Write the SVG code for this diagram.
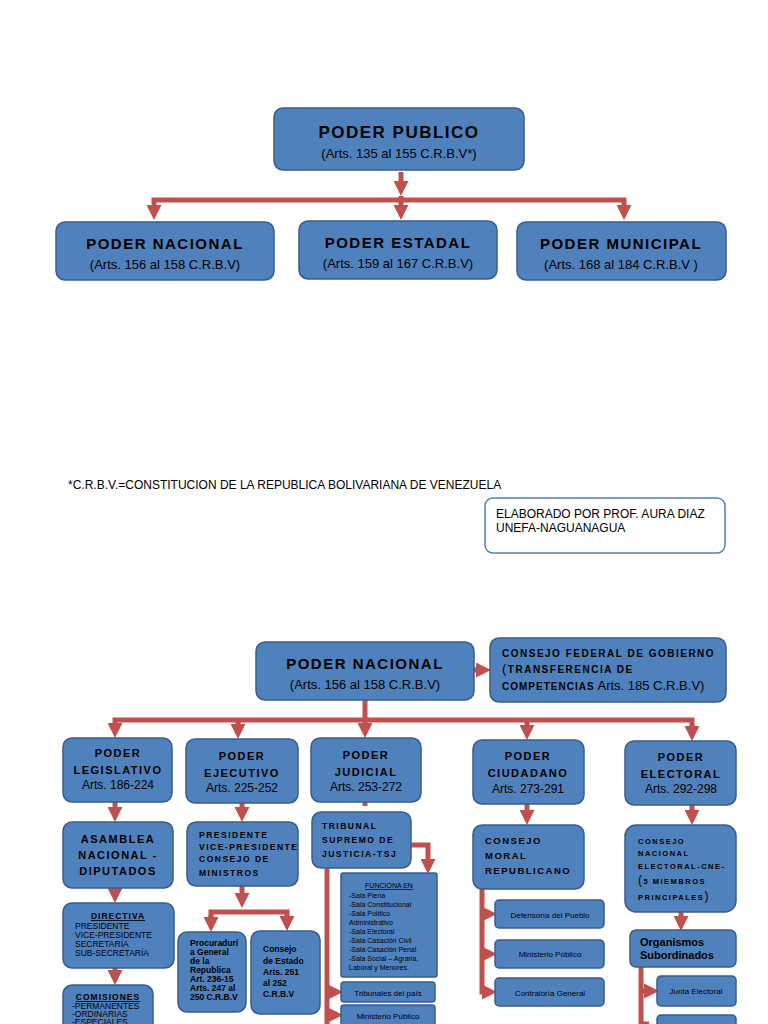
<svg xmlns="http://www.w3.org/2000/svg" width="768" height="1024" viewBox="0 0 768 1024">
<style>
.b{fill:#4f81bd;stroke:#385d8a;stroke-width:1.5}
.t{font-family:"Liberation Sans",Arial,sans-serif;fill:#000}
.h{font-weight:bold;letter-spacing:1.5px}
.c{text-anchor:middle}
.l{fill:none;stroke:#c0504d;stroke-width:5}
.w{fill:#fff;stroke:#4f81bd;stroke-width:1.5}
</style>
<defs><marker id="a" markerWidth="3" markerHeight="3" refX="1" refY="1.5" orient="auto"><path d="M0,0L3,1.5L0,3z" fill="#c0504d"/></marker></defs>
<rect width="768" height="1024" fill="#fff"/>
<g id="connectors">
<path class="l" d="M401,172V186" marker-end="url(#a)"/>
<path class="l" d="M154,212V200H624V212M401,196V212"/>
<path class="l" d="M154,205V210" marker-end="url(#a)"/>
<path class="l" d="M401,205V210" marker-end="url(#a)"/>
<path class="l" d="M624,205V210" marker-end="url(#a)"/>
<path class="l" d="M474,670H481" marker-end="url(#a)"/>
<path class="l" d="M365,700V720M115,730V720H692V730M238,720V730M365,720V730M527,720V730"/>
<path class="l" d="M115,725V728" marker-end="url(#a)"/>
<path class="l" d="M238,725V729" marker-end="url(#a)"/>
<path class="l" d="M365,725V728" marker-end="url(#a)"/>
<path class="l" d="M527,725V730" marker-end="url(#a)"/>
<path class="l" d="M692,725V731" marker-end="url(#a)"/>
<path class="l" d="M115,802V812" marker-end="url(#a)"/>
<path class="l" d="M115,888V893" marker-end="url(#a)"/>
<path class="l" d="M115,968V975" marker-end="url(#a)"/>
<path class="l" d="M242,803V812" marker-end="url(#a)"/>
<path class="l" d="M242,886V898" marker-end="url(#a)"/>
<path class="l" d="M211,922V912H287V922"/>
<path class="l" d="M211,915V922" marker-end="url(#a)"/>
<path class="l" d="M287,915V921" marker-end="url(#a)"/>
<path class="l" d="M365,802V806"/>
<path class="l" d="M411,845H428V864" marker-end="url(#a)"/>
<path class="l" d="M327,868V1024M327,992H334M327,1015H334"/>
<path class="l" d="M330,992H333" marker-end="url(#a)"/>
<path class="l" d="M330,1015H333" marker-end="url(#a)"/>
<path class="l" d="M527,804V815" marker-end="url(#a)"/>
<path class="l" d="M482,889V992H487M482,914H487M482,954H487"/>
<path class="l" d="M484,914H487" marker-end="url(#a)"/>
<path class="l" d="M484,954H487" marker-end="url(#a)"/>
<path class="l" d="M484,992H487" marker-end="url(#a)"/>
<path class="l" d="M692,805V815" marker-end="url(#a)"/>
<path class="l" d="M681,912V921" marker-end="url(#a)"/>
<path class="l" d="M641,967V1024M641,991H649M641,1024H649"/>
<path class="l" d="M644,991H649" marker-end="url(#a)"/>
</g>
<g id="poder-publico"><rect class="b" x="274" y="108" width="250" height="62" rx="9"/>
<text class="t h c" x="399" y="138" font-size="17">PODER PUBLICO</text>
<text class="t c" x="399" y="158" font-size="13">(Arts. 135 al 155 C.R.B.V*)</text></g>
<g id="pn1"><rect class="b" x="56" y="222" width="218" height="58" rx="9"/>
<text class="t h c" x="165" y="249" font-size="15">PODER NACIONAL</text>
<text class="t c" x="165" y="269" font-size="13">(Arts. 156 al 158 C.R.B.V)</text></g>
<g id="pe"><rect class="b" x="299" y="221" width="198" height="58" rx="9"/>
<text class="t h c" x="398" y="248" font-size="15">PODER ESTADAL</text>
<text class="t c" x="398" y="268" font-size="13">(Arts. 159 al 167 C.R.B.V)</text></g>
<g id="pm"><rect class="b" x="517" y="222" width="209" height="58" rx="9"/>
<text class="t h c" x="621" y="249" font-size="15">PODER MUNICIPAL</text>
<text class="t c" x="621" y="269" font-size="13">(Arts. 168 al 184 C.R.B.V )</text></g>
<text class="t" x="68" y="489" font-size="12">*C.R.B.V.=CONSTITUCION  DE LA REPUBLICA BOLIVARIANA  DE VENEZUELA</text>
<g id="elaborado"><rect class="w" x="485" y="498" width="240" height="55" rx="8"/>
<text class="t" x="496" y="518" font-size="12">ELABORADO POR PROF. AURA DIAZ</text>
<text class="t" x="496" y="532" font-size="12">UNEFA-NAGUANAGUA</text></g>
<g id="pn2"><rect class="b" x="256" y="642" width="218" height="58" rx="9"/>
<text class="t h c" x="365" y="669" font-size="15">PODER NACIONAL</text>
<text class="t c" x="365" y="689" font-size="13">(Arts. 156 al 158 C.R.B.V)</text></g>
<g id="cfg"><rect class="b" x="490" y="638" width="236" height="64" rx="9"/>
<text class="t h" x="502" y="657" font-size="10" letter-spacing="1">CONSEJO FEDERAL DE GOBIERNO</text>
<text class="t h" x="502" y="673" font-size="10" letter-spacing="1"><tspan font-size="13" font-weight="normal">(</tspan>TRANSFERENCIA DE</text>
<text class="t" x="502" y="690" font-size="10"><tspan font-weight="bold" letter-spacing="1">COMPETENCIAS</tspan><tspan font-size="13"> Arts. 185 C.R.B.V)</tspan></text></g>
<g id="leg"><rect class="b" x="63" y="738" width="109" height="64" rx="9"/>
<text class="t h c" x="118" y="757" font-size="11">PODER</text><text class="t h c" x="118" y="774" font-size="11">LEGISLATIVO</text>
<text class="t c" x="118" y="789" font-size="12">Arts. 186-224</text></g>
<g id="eje"><rect class="b" x="186" y="739" width="112" height="64" rx="9"/>
<text class="t h c" x="242" y="760" font-size="11">PODER</text><text class="t h c" x="242" y="777" font-size="11">EJECUTIVO</text>
<text class="t c" x="242" y="792" font-size="12">Arts. 225-252</text></g>
<g id="jud"><rect class="b" x="311" y="738" width="110" height="64" rx="9"/>
<text class="t h c" x="366" y="759" font-size="11">PODER</text><text class="t h c" x="366" y="776" font-size="11">JUDICIAL</text>
<text class="t c" x="366" y="791" font-size="12">Arts. 253-272</text></g>
<g id="ciu"><rect class="b" x="473" y="740" width="111" height="64" rx="9"/>
<text class="t h c" x="528" y="760" font-size="11">PODER</text><text class="t h c" x="528" y="777" font-size="11">CIUDADANO</text>
<text class="t c" x="528" y="793" font-size="12">Arts. 273-291</text></g>
<g id="ele"><rect class="b" x="625" y="741" width="111" height="64" rx="9"/>
<text class="t h c" x="681" y="761" font-size="11">PODER</text><text class="t h c" x="681" y="778" font-size="11">ELECTORAL</text>
<text class="t c" x="681" y="793" font-size="12">Arts. 292-298</text></g>
<g id="asamblea"><rect class="b" x="63" y="822" width="110" height="66" rx="9"/>
<text class="t h c" x="118" y="843" font-size="11">ASAMBLEA</text><text class="t h c" x="118" y="859" font-size="11">NACIONAL -</text><text class="t h c" x="118" y="875" font-size="11">DIPUTADOS</text></g>
<g id="presidente"><rect class="b" x="187" y="822" width="111" height="64" rx="9"/>
<text class="t h" x="199" y="838" font-size="8.5" letter-spacing="0.6">PRESIDENTE</text>
<text class="t h" x="199" y="850" font-size="8.5" letter-spacing="0.6">VICE-PRESIDENTE</text>
<text class="t h" x="199" y="862" font-size="8.5" letter-spacing="0.6">CONSEJO DE</text>
<text class="t h" x="199" y="876" font-size="8.5" letter-spacing="0.6">MINISTROS</text></g>
<g id="tsj"><rect class="b" x="312" y="812" width="99" height="56" rx="9"/>
<text class="t h" x="322" y="829" font-size="8.5" letter-spacing="1">TRIBUNAL</text>
<text class="t h" x="322" y="843" font-size="8.5" letter-spacing="1">SUPREMO DE</text>
<text class="t h" x="322" y="857" font-size="8.5" letter-spacing="1">JUSTICIA-TSJ</text></g>
<g id="cmr"><rect class="b" x="473" y="825" width="111" height="64" rx="9"/>
<text class="t h" x="485" y="844" font-size="9.5" letter-spacing="1.5">CONSEJO</text>
<text class="t h" x="485" y="859" font-size="9.5" letter-spacing="1.5">MORAL</text>
<text class="t h" x="485" y="874" font-size="9.5" letter-spacing="1.5">REPUBLICANO</text></g>
<g id="cne"><rect class="b" x="625" y="825" width="111" height="87" rx="11"/>
<text class="t h" x="638" y="844" font-size="7.5" letter-spacing="1">CONSEJO</text>
<text class="t h" x="638" y="856" font-size="7.5" letter-spacing="1">NACIONAL</text>
<text class="t h" x="638" y="869" font-size="7.5" letter-spacing="1">ELECTORAL-CNE-</text>
<text class="t h" x="638" y="884" font-size="7.5" letter-spacing="1"><tspan font-size="12" font-weight="normal">(</tspan>5 MIEMBROS</text>
<text class="t h" x="638" y="900" font-size="7.5" letter-spacing="1">PRINCIPALES<tspan font-size="12" font-weight="normal">)</tspan></text></g>
<g id="directiva"><rect class="b" x="63" y="903" width="111" height="65" rx="9"/>
<text class="t c" x="118" y="919" font-size="8.5" font-weight="bold" text-decoration="underline" letter-spacing="1">DIRECTIVA</text>
<text class="t" x="75" y="929" font-size="8.5">PRESIDENTE</text>
<text class="t" x="75" y="938" font-size="8.5">VICE-PRESIDENTE</text>
<text class="t" x="75" y="947" font-size="8.5">SECRETARÍA</text>
<text class="t" x="75" y="956" font-size="8.5">SUB-SECRETARÍA</text></g>
<g id="comisiones"><rect class="b" x="63" y="985" width="90" height="50" rx="9"/>
<text class="t c" x="108" y="1000" font-size="8.5" font-weight="bold" text-decoration="underline" letter-spacing="1">COMISIONES</text>
<text class="t" x="72" y="1009" font-size="8.5">-PERMANENTES</text>
<text class="t" x="72" y="1017" font-size="8.5">-ORDINARIAS</text>
<text class="t" x="72" y="1025" font-size="8.5">-ESPECIALES</text></g>
<g id="procuraduria"><rect class="b" x="178" y="932" width="68" height="80" rx="9"/>
<text class="t" font-size="8.5" font-weight="bold"><tspan x="190" y="946">Procuradurí</tspan><tspan x="190" y="955">a General</tspan><tspan x="190" y="964">de la</tspan><tspan x="190" y="973">Republica</tspan><tspan x="190" y="982">Art. 236-15</tspan><tspan x="190" y="991">Arts. 247 al</tspan><tspan x="190" y="1000">250 C.R.B.V</tspan></text></g>
<g id="consejo-estado"><rect class="b" x="251" y="931" width="69" height="83" rx="9"/>
<text class="t" font-size="8.5" font-weight="bold"><tspan x="263" y="952">Consejo</tspan><tspan x="263" y="964">de Estado</tspan><tspan x="263" y="975">Arts. 251</tspan><tspan x="263" y="986">al 252</tspan><tspan x="263" y="997">C.R.B.V</tspan></text></g>
<g id="funciona"><rect class="b" x="341" y="873" width="96" height="104" rx="2"/>
<text class="t c" x="389" y="888" font-size="7" text-decoration="underline">FUNCIONA   EN</text>
<text class="t" font-size="7"><tspan x="349" y="898">-Sala Plena</tspan><tspan x="349" y="907">-Sala Constitucional</tspan><tspan x="349" y="916">-Sala Político</tspan><tspan x="349" y="925">Administrativo</tspan><tspan x="349" y="934">-Sala Electoral</tspan><tspan x="349" y="943">-Sala Casación Civil</tspan><tspan x="349" y="952">-Sala Casación Penal</tspan><tspan x="349" y="961">-Sala Social – Agraria,</tspan><tspan x="349" y="970">Laboral y  Menores.</tspan></text></g>
<g id="tribunales"><rect class="b" x="341" y="982" width="94" height="20" rx="3"/>
<text class="t c" x="388" y="996" font-size="8">Tribunales del país</text></g>
<g id="mp1"><rect class="b" x="341" y="1005" width="94" height="22" rx="3"/>
<text class="t c" x="388" y="1019" font-size="8">Ministerio Público</text></g>
<g id="defensoria"><rect class="b" x="495" y="900" width="109" height="28" rx="4"/>
<text class="t c" x="550" y="918" font-size="8">Defensoría del Pueblo</text></g>
<g id="mp2"><rect class="b" x="495" y="940" width="109" height="28" rx="4"/>
<text class="t c" x="550" y="957" font-size="8">Ministerio Público</text></g>
<g id="contraloria"><rect class="b" x="495" y="978" width="109" height="28" rx="4"/>
<text class="t c" x="550" y="996" font-size="8">Contraloría General</text></g>
<g id="organismos"><rect class="b" x="630" y="930" width="106" height="37" rx="6"/>
<text class="t" x="640" y="946" font-size="11" font-weight="bold">Organismos</text>
<text class="t" x="640" y="959" font-size="11" font-weight="bold">Subordinados</text></g>
<g id="junta"><rect class="b" x="657" y="976" width="79" height="30" rx="4"/>
<text class="t c" x="696" y="994" font-size="8">Junta Electoral</text></g>
<g id="org2"><rect class="b" x="657" y="1015" width="79" height="25" rx="4"/></g>
</svg>
